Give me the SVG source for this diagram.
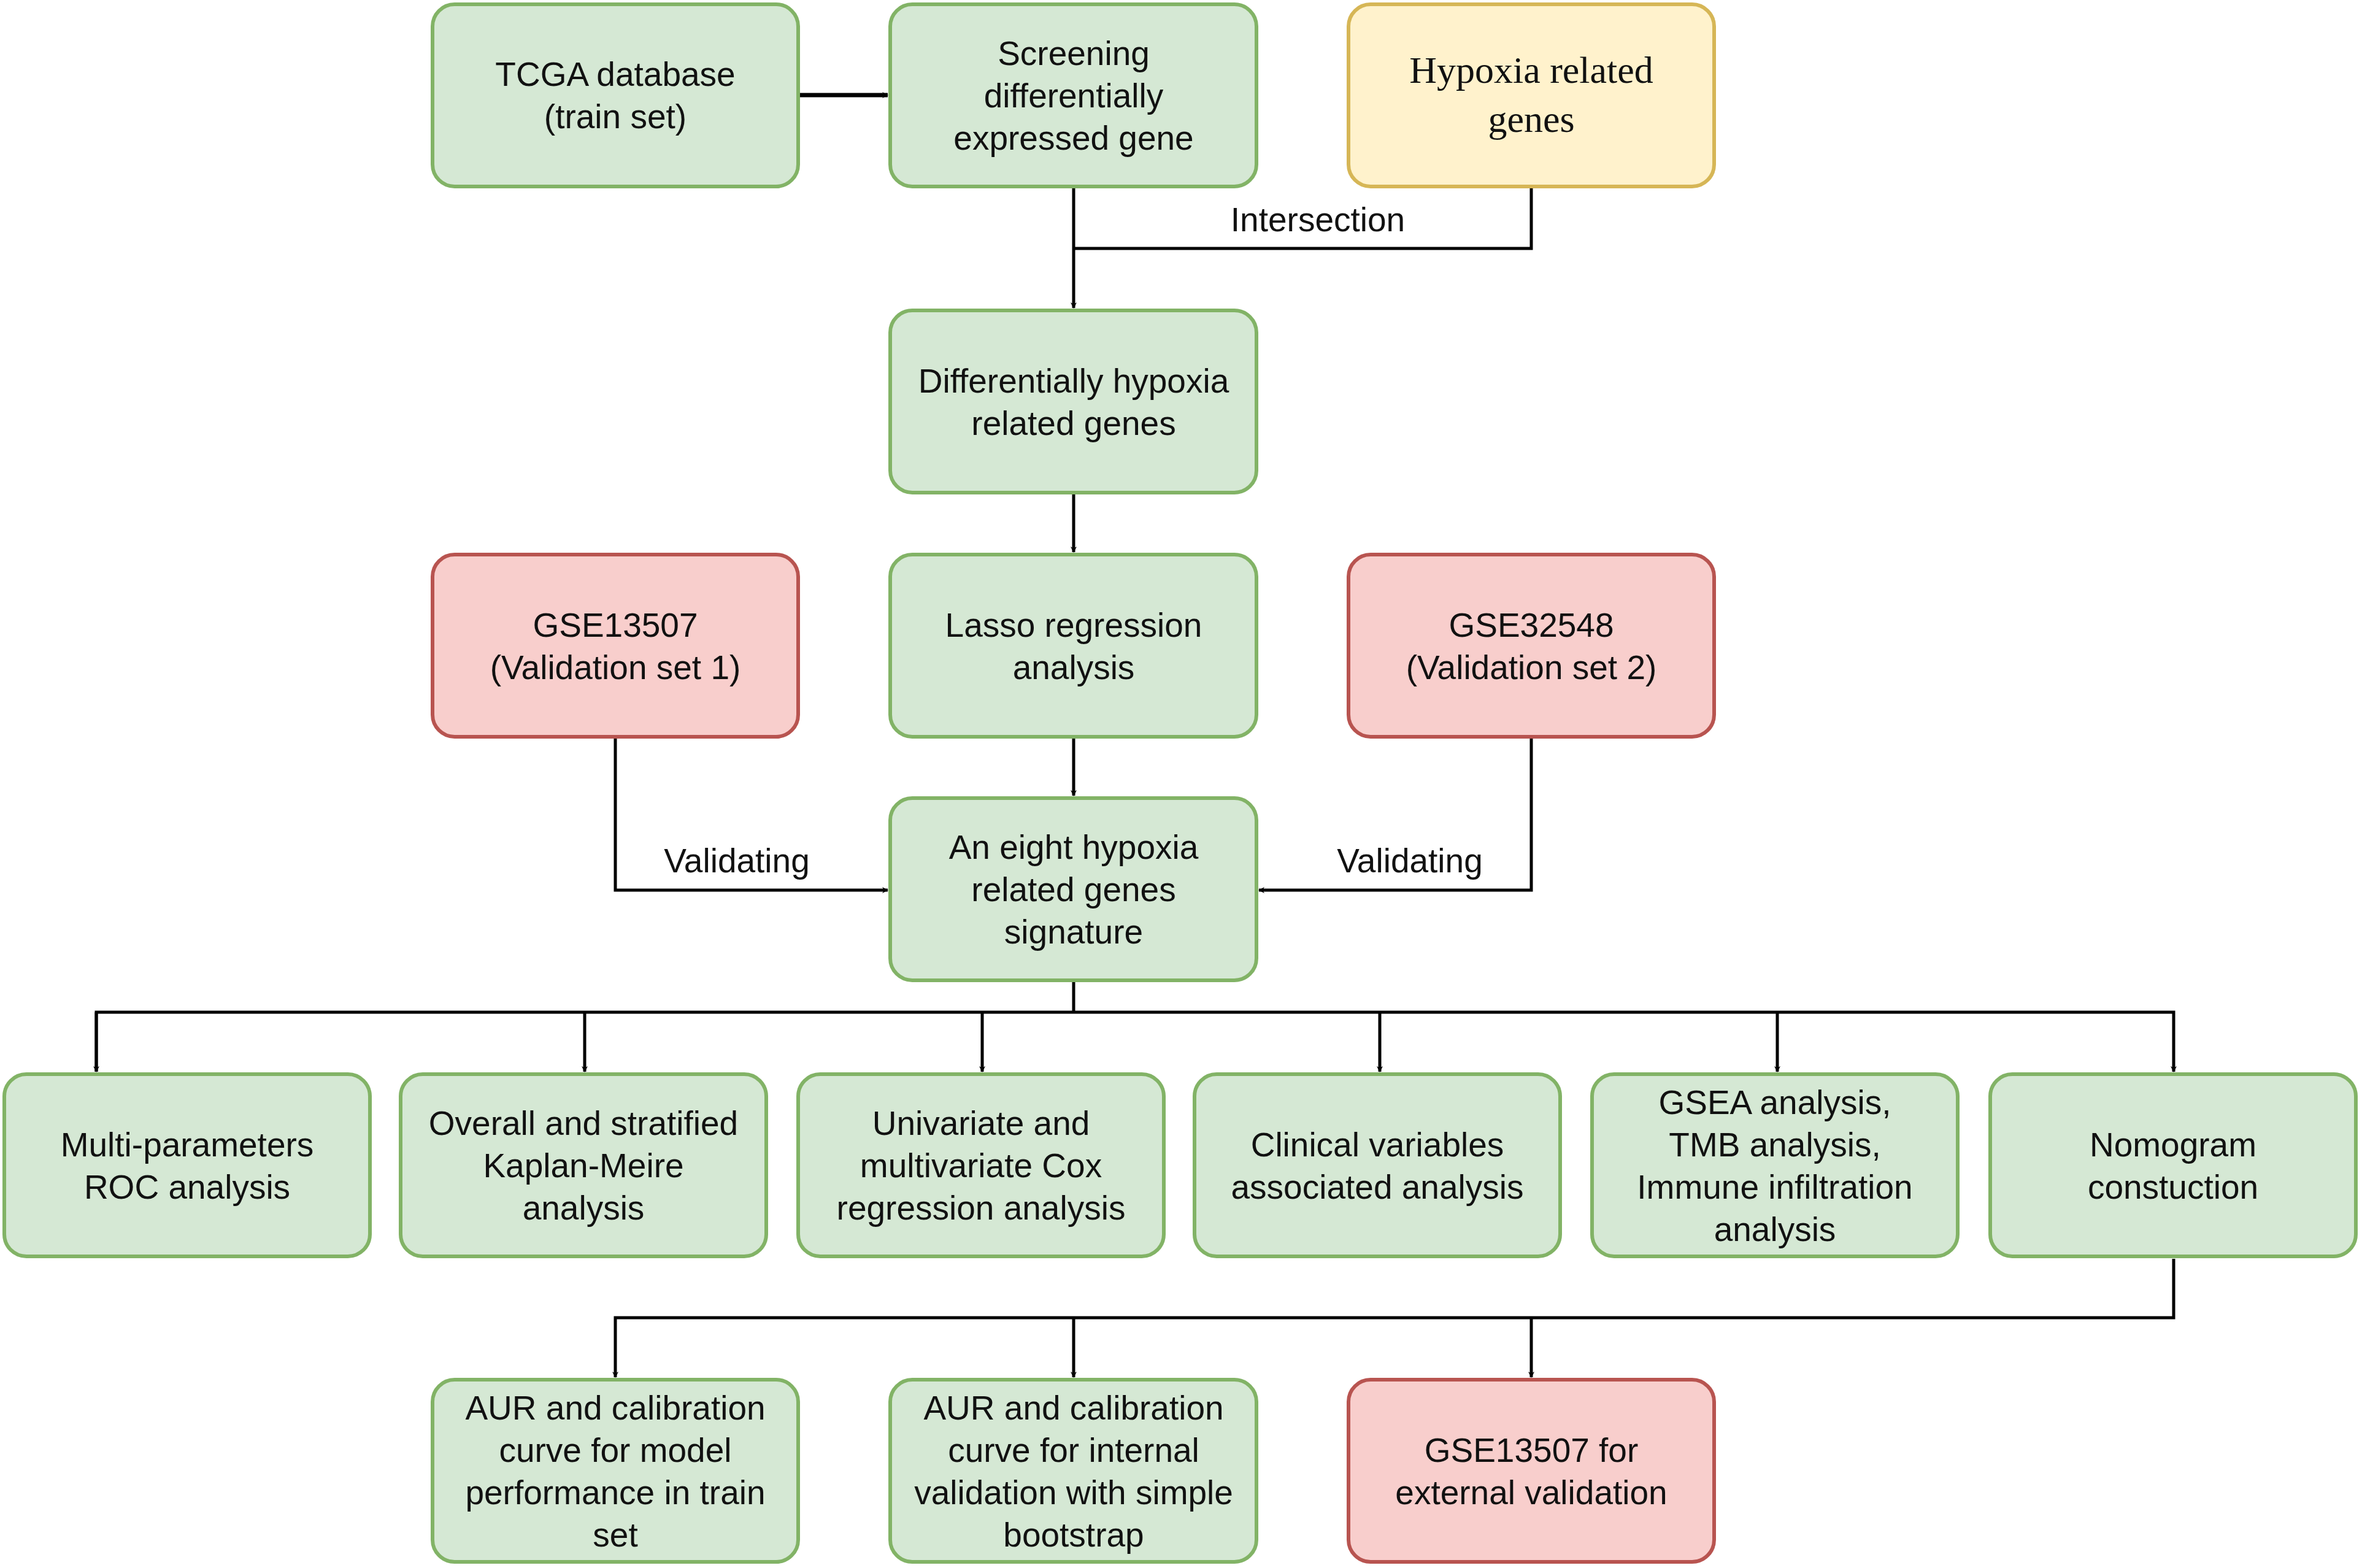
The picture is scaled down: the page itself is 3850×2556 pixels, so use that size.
<svg xmlns="http://www.w3.org/2000/svg" width="3850" height="2556" viewBox="0 0 3850 2556">
<style>
rect{stroke-width:6}
.g rect{fill:#d5e8d4;stroke:#82b366}
.y rect{fill:#fff2cc;stroke:#d6b656}
.r rect{fill:#f8cecc;stroke:#b85450}
text{font-family:"Liberation Sans",Arial,sans-serif;font-size:55px;text-anchor:middle;fill:#111}
.serif{font-family:"Liberation Serif","Times New Roman",serif;font-size:62px}
.c{fill:none;stroke:#000;stroke-width:5}
</style>
<defs><marker id="a" markerWidth="10" markerHeight="10" refX="9" refY="5" orient="auto" markerUnits="userSpaceOnUse" viewBox="0 0 10 10"><path d="M0,0L10,5L0,10L3,5Z" fill="#000"/></marker>
</defs>
<g id="connectors" class="c">
<path d="M1301,155H1447" marker-end="url(#a)" style="stroke-width:7"/>
<path d="M1750,304V502" marker-end="url(#a)"/>
<path d="M2496,304V405H1750"/>
<path d="M1750,806V900" marker-end="url(#a)"/>
<path d="M1750,1201V1297" marker-end="url(#a)"/>
<path d="M1003,1201V1451H1447" marker-end="url(#a)"/>
<path d="M2496,1201V1451H2052" marker-end="url(#a)"/>
<path d="M1750,1598V1650"/>
<path d="M157,1747V1650H3543V1747" marker-end="url(#a)"/>
<path d="M157,1650V1747" marker-end="url(#a)"/>
<path d="M953,1650V1747" marker-end="url(#a)"/>
<path d="M1601,1650V1747" marker-end="url(#a)"/>
<path d="M2249,1650V1747" marker-end="url(#a)"/>
<path d="M2897,1650V1747" marker-end="url(#a)"/>
<path d="M3543,2052V2148H1003V2245" marker-end="url(#a)"/>
<path d="M1750,2148V2245" marker-end="url(#a)"/>
<path d="M2496,2148V2245" marker-end="url(#a)"/>
</g>
<g id="labels">
<text x="2148" y="377">Intersection</text>
<text x="1201" y="1422">Validating</text>
<text x="2298" y="1422">Validating</text>
</g>
<g id="tcga" class="g"><rect x="705" y="7" width="596" height="297" rx="36"/><text x="1003" y="140">TCGA database</text><text x="1003" y="209">(train set)</text></g>
<g id="screen" class="g"><rect x="1451" y="7" width="597" height="297" rx="36"/><text x="1750" y="106">Screening</text><text x="1750" y="175">differentially</text><text x="1750" y="244">expressed gene</text></g>
<g id="hyp" class="y"><rect x="2198" y="7" width="596" height="297" rx="36"/><text class="serif" x="2496" y="135">Hypoxia related</text><text class="serif" x="2496" y="215">genes</text></g>
<g id="diff" class="g"><rect x="1451" y="506" width="597" height="297" rx="36"/><text x="1750" y="640">Differentially hypoxia</text><text x="1750" y="709">related genes</text></g>
<g id="gse1" class="r"><rect x="705" y="904" width="596" height="297" rx="36"/><text x="1003" y="1038">GSE13507</text><text x="1003" y="1107">(Validation set 1)</text></g>
<g id="lasso" class="g"><rect x="1451" y="904" width="597" height="297" rx="36"/><text x="1750" y="1038">Lasso regression</text><text x="1750" y="1107">analysis</text></g>
<g id="gse2" class="r"><rect x="2198" y="904" width="596" height="297" rx="36"/><text x="2496" y="1038">GSE32548</text><text x="2496" y="1107">(Validation set 2)</text></g>
<g id="sig" class="g"><rect x="1451" y="1301" width="597" height="297" rx="36"/><text x="1750" y="1400">An eight hypoxia</text><text x="1750" y="1469">related genes</text><text x="1750" y="1538">signature</text></g>
<g id="roc" class="g"><rect x="7" y="1751" width="596" height="297" rx="36"/><text x="305" y="1885">Multi-parameters</text><text x="305" y="1954">ROC analysis</text></g>
<g id="km" class="g"><rect x="653" y="1751" width="596" height="297" rx="36"/><text x="951" y="1850">Overall and stratified</text><text x="951" y="1919">Kaplan-Meire</text><text x="951" y="1988">analysis</text></g>
<g id="cox" class="g"><rect x="1301" y="1751" width="596" height="297" rx="36"/><text x="1599" y="1850">Univariate and</text><text x="1599" y="1919">multivariate Cox</text><text x="1599" y="1988">regression analysis</text></g>
<g id="clin" class="g"><rect x="1947" y="1751" width="596" height="297" rx="36"/><text x="2245" y="1885">Clinical variables</text><text x="2245" y="1954">associated analysis</text></g>
<g id="gsea" class="g"><rect x="2595" y="1751" width="596" height="297" rx="36"/><text x="2893" y="1816">GSEA analysis,</text><text x="2893" y="1885">TMB analysis,</text><text x="2893" y="1954">Immune infiltration</text><text x="2893" y="2023">analysis</text></g>
<g id="nomo" class="g"><rect x="3244" y="1751" width="596" height="297" rx="36"/><text x="3542" y="1885">Nomogram</text><text x="3542" y="1954">constuction</text></g>
<g id="aur1" class="g"><rect x="705" y="2249" width="596" height="297" rx="36"/><text x="1003" y="2314">AUR and calibration</text><text x="1003" y="2383">curve for model</text><text x="1003" y="2452">performance in train</text><text x="1003" y="2521">set</text></g>
<g id="aur2" class="g"><rect x="1451" y="2249" width="597" height="297" rx="36"/><text x="1750" y="2314">AUR and calibration</text><text x="1750" y="2383">curve for internal</text><text x="1750" y="2452">validation with simple</text><text x="1750" y="2521">bootstrap</text></g>
<g id="ext" class="r"><rect x="2198" y="2249" width="596" height="297" rx="36"/><text x="2496" y="2383">GSE13507 for</text><text x="2496" y="2452">external validation</text></g>
</svg>
